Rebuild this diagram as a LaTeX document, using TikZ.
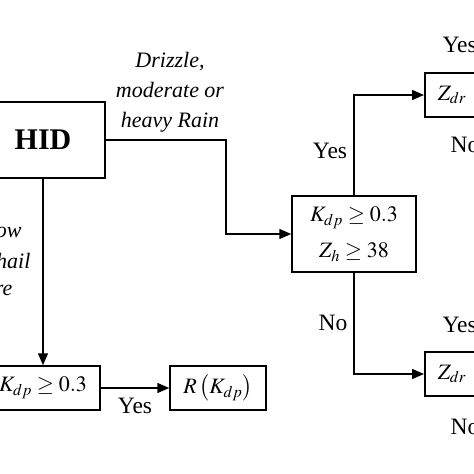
\documentclass[tikz,border=0pt]{standalone}
\usepackage{mathptmx}
\usepackage[no-math]{fontspec}
\setmainfont{Liberation Serif}
\usetikzlibrary{arrows.meta}

\tikzset{
  box/.style={draw, line width=1.5pt, inner sep=0pt, font=\fontsize{22}{30}\selectfont},
  arrow/.style={line width=1.5pt, -{Triangle[length=12pt,width=10pt]}},
  txt/.style={font=\fontsize{23.5}{30}\selectfont},
  cond/.style={font=\fontsize{22}{30}\selectfont\itshape, align=center},
}

\begin{document}
\begin{tikzpicture}[x=1pt, y=-1pt]
    \useasboundingbox (0,0) rectangle (474,474);
    \clip (0,0) rectangle (474,474);
    % ノード
    \node[box, minimum width=124pt, minimum height=76pt, font=\fontsize{30}{30}\selectfont\bfseries] (hid) at (43,140) {HID};
    \node[box, minimum width=124pt, minimum height=76pt, align=center] (mid) at (354,234) {$K_{dp}\geq 0.3$\\[6pt]$Z_{h}\geq 38$};
    \node[box, minimum width=114pt, minimum height=44pt] (kdpL) at (43,388) {$K_{dp}\geq 0.3$};
    \node[box, minimum width=96pt, minimum height=44pt] (rbox) at (218,388) {$R\left(K_{dp}\right)$};
    \node[box, anchor=west, minimum height=44pt, text width=80pt, inner xsep=13pt, align=left] (zdrA) at (424,95) {$Z_{dr}$};
    \node[box, anchor=west, minimum height=44pt, text width=80pt, inner xsep=13pt, align=left] (zdrB) at (424,374) {$Z_{dr}$};
    \coordinate (turn) at (226,140);

    % エッジ
    \draw[arrow] (hid.south) -- (hid.south |- kdpL.north);
    \draw[arrow] (kdpL.east) -- (rbox.west);
    \draw[arrow] (hid.east) -- (turn) |- (mid.west);
    \draw[arrow] (mid.north) |- (zdrA.west);
    \draw[arrow] (mid.south) |- (zdrB.west);

    % ラベル
    \node[cond] (rain) at (170,92) {Drizzle,\\moderate or\\heavy Rain};
    \node[cond, anchor=east] (cut1) at (25,232) {ow};
    \node[cond, anchor=east] (cut2) at (34,261) {hail};
    \node[cond, anchor=east] (cut3) at (16,290) {re};
    \node[txt] (yesL) at (135,406) {Yes};
    \node[txt] (yesM) at (330,151) {Yes};
    \node[txt] (noM) at (333,323) {No};
    \node[txt, anchor=west] (yesA) at (439,45) {Yes};
    \node[txt, anchor=west] (noA) at (447,145) {No};
    \node[txt, anchor=west] (yesB) at (439,325) {Yes};
    \node[txt, anchor=west] (noB) at (447,427) {No};
\end{tikzpicture}
\end{document}
